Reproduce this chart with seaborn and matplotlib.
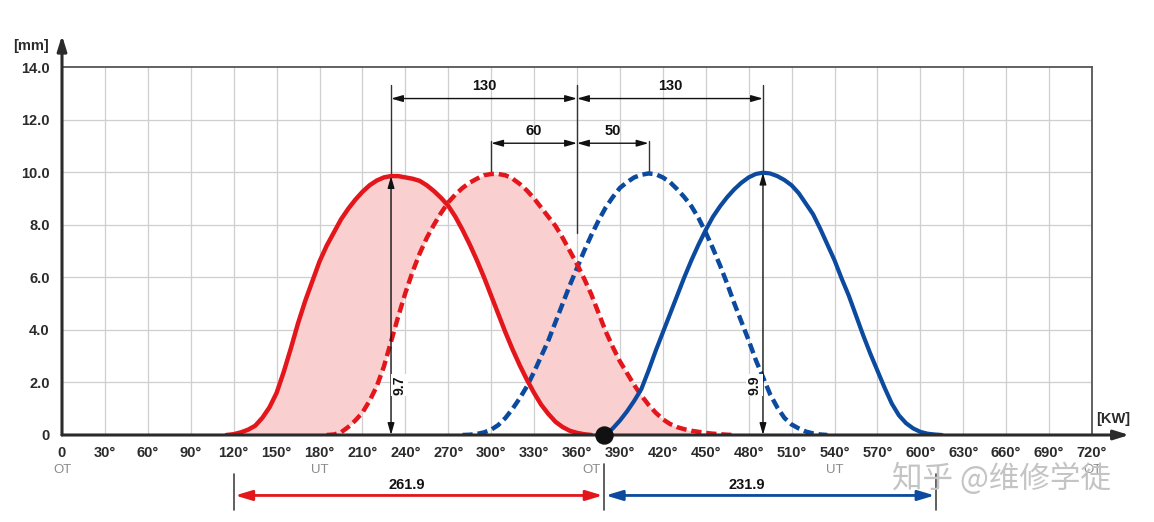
import numpy as np
import pandas as pd
import matplotlib
matplotlib.use('Agg')
import matplotlib.pyplot as plt
import seaborn as sns

#%% data: valve lift [mm] every 5 deg crank angle
STEP = 5
red_solid_start = 115
lift_red_solid = [0.0, 0.03, 0.1, 0.2, 0.35, 0.65, 1.05, 1.6, 2.4, 3.3, 4.25,
                  5.1, 5.85, 6.6, 7.2, 7.7, 8.2, 8.6, 8.95, 9.25, 9.5, 9.68,
                  9.8, 9.85, 9.85, 9.8, 9.75, 9.67, 9.5, 9.28, 9.02, 8.72, 8.3,
                  7.8, 7.25, 6.65, 6.0, 5.3, 4.6, 3.9, 3.25, 2.65, 2.1, 1.6,
                  1.15, 0.8, 0.5, 0.3, 0.16, 0.08, 0.03, 0.0]
red_dashed_start = 185
lift_red_dashed = [0.0, 0.02, 0.1, 0.3, 0.55, 0.85, 1.3, 1.85, 2.6, 3.55, 4.5,
                   5.4, 6.2, 6.9, 7.5, 8.0, 8.45, 8.85, 9.15, 9.4, 9.6, 9.75,
                   9.88, 9.93, 9.93, 9.88, 9.75, 9.55, 9.3, 9.0, 8.65, 8.3,
                   7.95, 7.5, 7.0, 6.5, 5.95, 5.35, 4.65, 3.95, 3.35, 2.8, 2.35,
                   1.9, 1.5, 1.15, 0.85, 0.6, 0.42, 0.3, 0.22, 0.16, 0.12, 0.08,
                   0.05, 0.03, 0.01, 0.0]
blue_dashed_start = 280
lift_blue_dashed = [0.0, 0.01, 0.04, 0.1, 0.2, 0.38, 0.65, 1.0, 1.4, 1.85, 2.4,
                    3.0, 3.6, 4.3, 5.0, 5.7, 6.35, 7.0, 7.6, 8.15, 8.65, 9.05,
                    9.4, 9.62, 9.8, 9.9, 9.95, 9.92, 9.8, 9.62, 9.35, 9.05, 8.7,
                    8.25, 7.7, 7.1, 6.45, 5.75, 5.0, 4.3, 3.6, 2.85, 2.2, 1.55,
                    1.05, 0.65, 0.4, 0.25, 0.13, 0.06, 0.02, 0.0]
blue_solid_start = 380
lift_blue_solid = [0.0, 0.25, 0.55, 0.9, 1.3, 1.75, 2.45, 3.2, 3.9, 4.6, 5.3,
                   6.0, 6.65, 7.25, 7.8, 8.3, 8.7, 9.05, 9.35, 9.6, 9.8, 9.93,
                   9.98, 9.95, 9.85, 9.7, 9.5, 9.2, 8.8, 8.4, 7.85, 7.25, 6.65,
                   5.95, 5.3, 4.55, 3.8, 3.1, 2.45, 1.8, 1.2, 0.75, 0.45, 0.25,
                   0.12, 0.05, 0.02, 0.0]


def deg_for(start, vals):
    return list(range(start, start + STEP * len(vals), STEP))


x_ticks = list(range(0, 721, 30))
x_ticklabels = ['0'] + [f'{v}°' for v in x_ticks[1:]]
y_ticks = list(range(0, 15, 2))
y_ticklabels = ['0'] + [f'{v:.1f}' for v in y_ticks[1:]]

peaks = [230, 300, 410, 490]      # cam peak angles
ot_mid = 360
top_dims = [(230, 360, '130'), (360, 490, '130')]
mid_dims = [(300, 360, '60'), (360, 410, '50')]
lift_labels = [(230, 9.85, '9.7'), (490, 9.98, '9.9')]
ot_deg = 379
span_red = (120, ot_deg, '261.9')
span_blue = (ot_deg, 611, '231.9')
ot_ut = [(0, 'OT'), (180, 'UT'), (370, 'OT'), (540, 'UT'), (720, 'OT')]

#%% plotting
RED = '#e3161b'
BLUE = '#0b4a9e'
PINK = '#f9cfd0'
DARK = '#2b2b2b'

sns.set_style('white')
plt.rcParams['font.family'] = ['Liberation Sans', 'DejaVu Sans']
plt.rcParams['font.weight'] = 'bold'

fig = plt.figure(figsize=(11.54, 5.22), dpi=100)
ax = fig.add_axes([62 / 1154, 1 - 435 / 522, 1030 / 1154, 368 / 522])
ax.set_xlim(0, 720)
ax.set_ylim(0, 14)

# grid
for gx in x_ticks[1:-1]:
    ax.axvline(gx, color='#cfcfcf', lw=0.9, zorder=0)
for gy in y_ticks[1:-1]:
    ax.axhline(gy, color='#cfcfcf', lw=0.9, zorder=0)

# shaded area between the two red curves (both on the same 5 deg grid)
red = pd.DataFrame({
    'solid': pd.Series(lift_red_solid, index=deg_for(red_solid_start, lift_red_solid)),
    'dashed': pd.Series(lift_red_dashed, index=deg_for(red_dashed_start, lift_red_dashed)),
}).fillna(0)
ax.fill_between(red.index, red['solid'], red['dashed'], color=PINK, lw=0, zorder=1)

dash = (0, (2.3, 1.1))
sns.lineplot(x=deg_for(blue_dashed_start, lift_blue_dashed), y=lift_blue_dashed,
             color=BLUE, lw=3.2, estimator=None, linestyle=dash, ax=ax, zorder=3)
sns.lineplot(x=deg_for(red_dashed_start, lift_red_dashed), y=lift_red_dashed,
             color=RED, lw=3.2, estimator=None, linestyle=dash, ax=ax, zorder=3)
sns.lineplot(x=deg_for(red_solid_start, lift_red_solid), y=lift_red_solid,
             color=RED, lw=3.2, estimator=None, ax=ax, zorder=4)
sns.lineplot(x=deg_for(blue_solid_start, lift_blue_solid), y=lift_blue_solid,
             color=BLUE, lw=3.0, estimator=None, ax=ax, zorder=4)

ax.scatter([ot_deg], [0], s=150, color='#111111', zorder=6, clip_on=False)

# frame + axis arrows
for s in ['left', 'bottom']:
    ax.spines[s].set_visible(False)
for s in ['top', 'right']:
    ax.spines[s].set_color('#555555')
    ax.spines[s].set_linewidth(1.3)
arr = dict(arrowstyle='-|>,head_length=0.9,head_width=0.28', color=DARK, lw=2.2,
           shrinkA=0, shrinkB=0)
ax.annotate('', xy=(0, 15.2), xytext=(0, 0), arrowprops=arr, annotation_clip=False, zorder=5)
ax.annotate('', xy=(746, 0), xytext=(0, 0), arrowprops=arr, annotation_clip=False, zorder=5)
ax.text(-22, 14.8, '[mm]', ha='center', va='center', fontsize=10.5, color=DARK)
ax.text(735, 0.6, '[KW]', ha='center', va='center', fontsize=10.5, color=DARK)

ax.set_xticks(x_ticks)
ax.set_xticklabels(x_ticklabels, fontsize=10.5, color=DARK)
ax.set_yticks(y_ticks)
ax.set_yticklabels(y_ticklabels, fontsize=10.5, color=DARK)
ax.tick_params(axis='x', length=0, pad=8)
ax.tick_params(axis='y', length=5, width=1.5, color=DARK, pad=4)
ax.set_xlabel('')
ax.set_ylabel('')

for xv, lab in ot_ut:
    ax.text(xv, -1.35, lab, ha='center', va='center', fontsize=9.5, color='#8a8a8a',
            fontweight='normal', clip_on=False)

# top dimension lines
dim = dict(arrowstyle='<|-|>,head_length=0.7,head_width=0.2', color='#111111', lw=1.0,
           shrinkA=0, shrinkB=0)
ax.plot([peaks[0], peaks[0]], [9.9, 13.3], color='#333333', lw=1.0, zorder=2)
ax.plot([peaks[3], peaks[3]], [10.0, 13.3], color='#333333', lw=1.0, zorder=2)
ax.plot([ot_mid, ot_mid], [7.7, 13.3], color='#333333', lw=1.0, zorder=2)
ax.plot([peaks[1], peaks[1]], [10.0, 11.2], color='#333333', lw=1.0, zorder=2)
ax.plot([peaks[2], peaks[2]], [10.0, 11.2], color='#333333', lw=1.0, zorder=2)
for x0, x1, lab in top_dims:
    ax.annotate('', xy=(x1, 12.8), xytext=(x0, 12.8), arrowprops=dim)
    ax.text((x0 + x1) / 2, 13.0, lab, ha='center', va='bottom', fontsize=10.5, color='#111111')
for x0, x1, lab in mid_dims:
    ax.annotate('', xy=(x1, 11.1), xytext=(x0, 11.1), arrowprops=dim)
    ax.text((x0 + x1) / 2, 11.3, lab, ha='center', va='bottom', fontsize=10.5, color='#111111')

# peak lift arrows
for i, (xv, yv, lab) in enumerate(lift_labels):
    ax.annotate('', xy=(xv, yv), xytext=(xv, 0), arrowprops=dim, zorder=5)
    off = 6 if i == 0 else -6
    ax.text(xv + off, 1.9, lab, rotation=90, ha='center', va='center', fontsize=10,
            color='#111111', zorder=5,
            bbox=dict(boxstyle='square,pad=0.1', fc='white', ec='none'))

# bottom spans
for xv in [span_red[0], ot_deg, span_blue[1]]:
    y_top = -1.1 if xv == ot_deg else -1.5
    ax.plot([xv, xv], [y_top, -2.85], color='#444444', lw=1.2, clip_on=False)
for (x0, x1, lab), col, tx in [(span_red, RED, 241), (span_blue, BLUE, 479)]:
    sp = dict(arrowstyle='<|-|>,head_length=1.0,head_width=0.3', color=col, lw=2.0,
              shrinkA=1, shrinkB=1)
    ax.annotate('', xy=(x1, -2.3), xytext=(x0, -2.3), arrowprops=sp, annotation_clip=False)
    ax.text(tx, -1.9, lab, ha='center', va='center', fontsize=10.5, color='#111111',
            clip_on=False)

fig.text(1001 / 1154, 1 - 479 / 522, '知乎 @维修学徒', ha='center', va='center',
         fontsize=22, color='#c4c4c4', fontweight='normal',
         family=['Noto Sans CJK SC', 'DejaVu Sans'])

fig.savefig('out.png', dpi=100, facecolor='white')
